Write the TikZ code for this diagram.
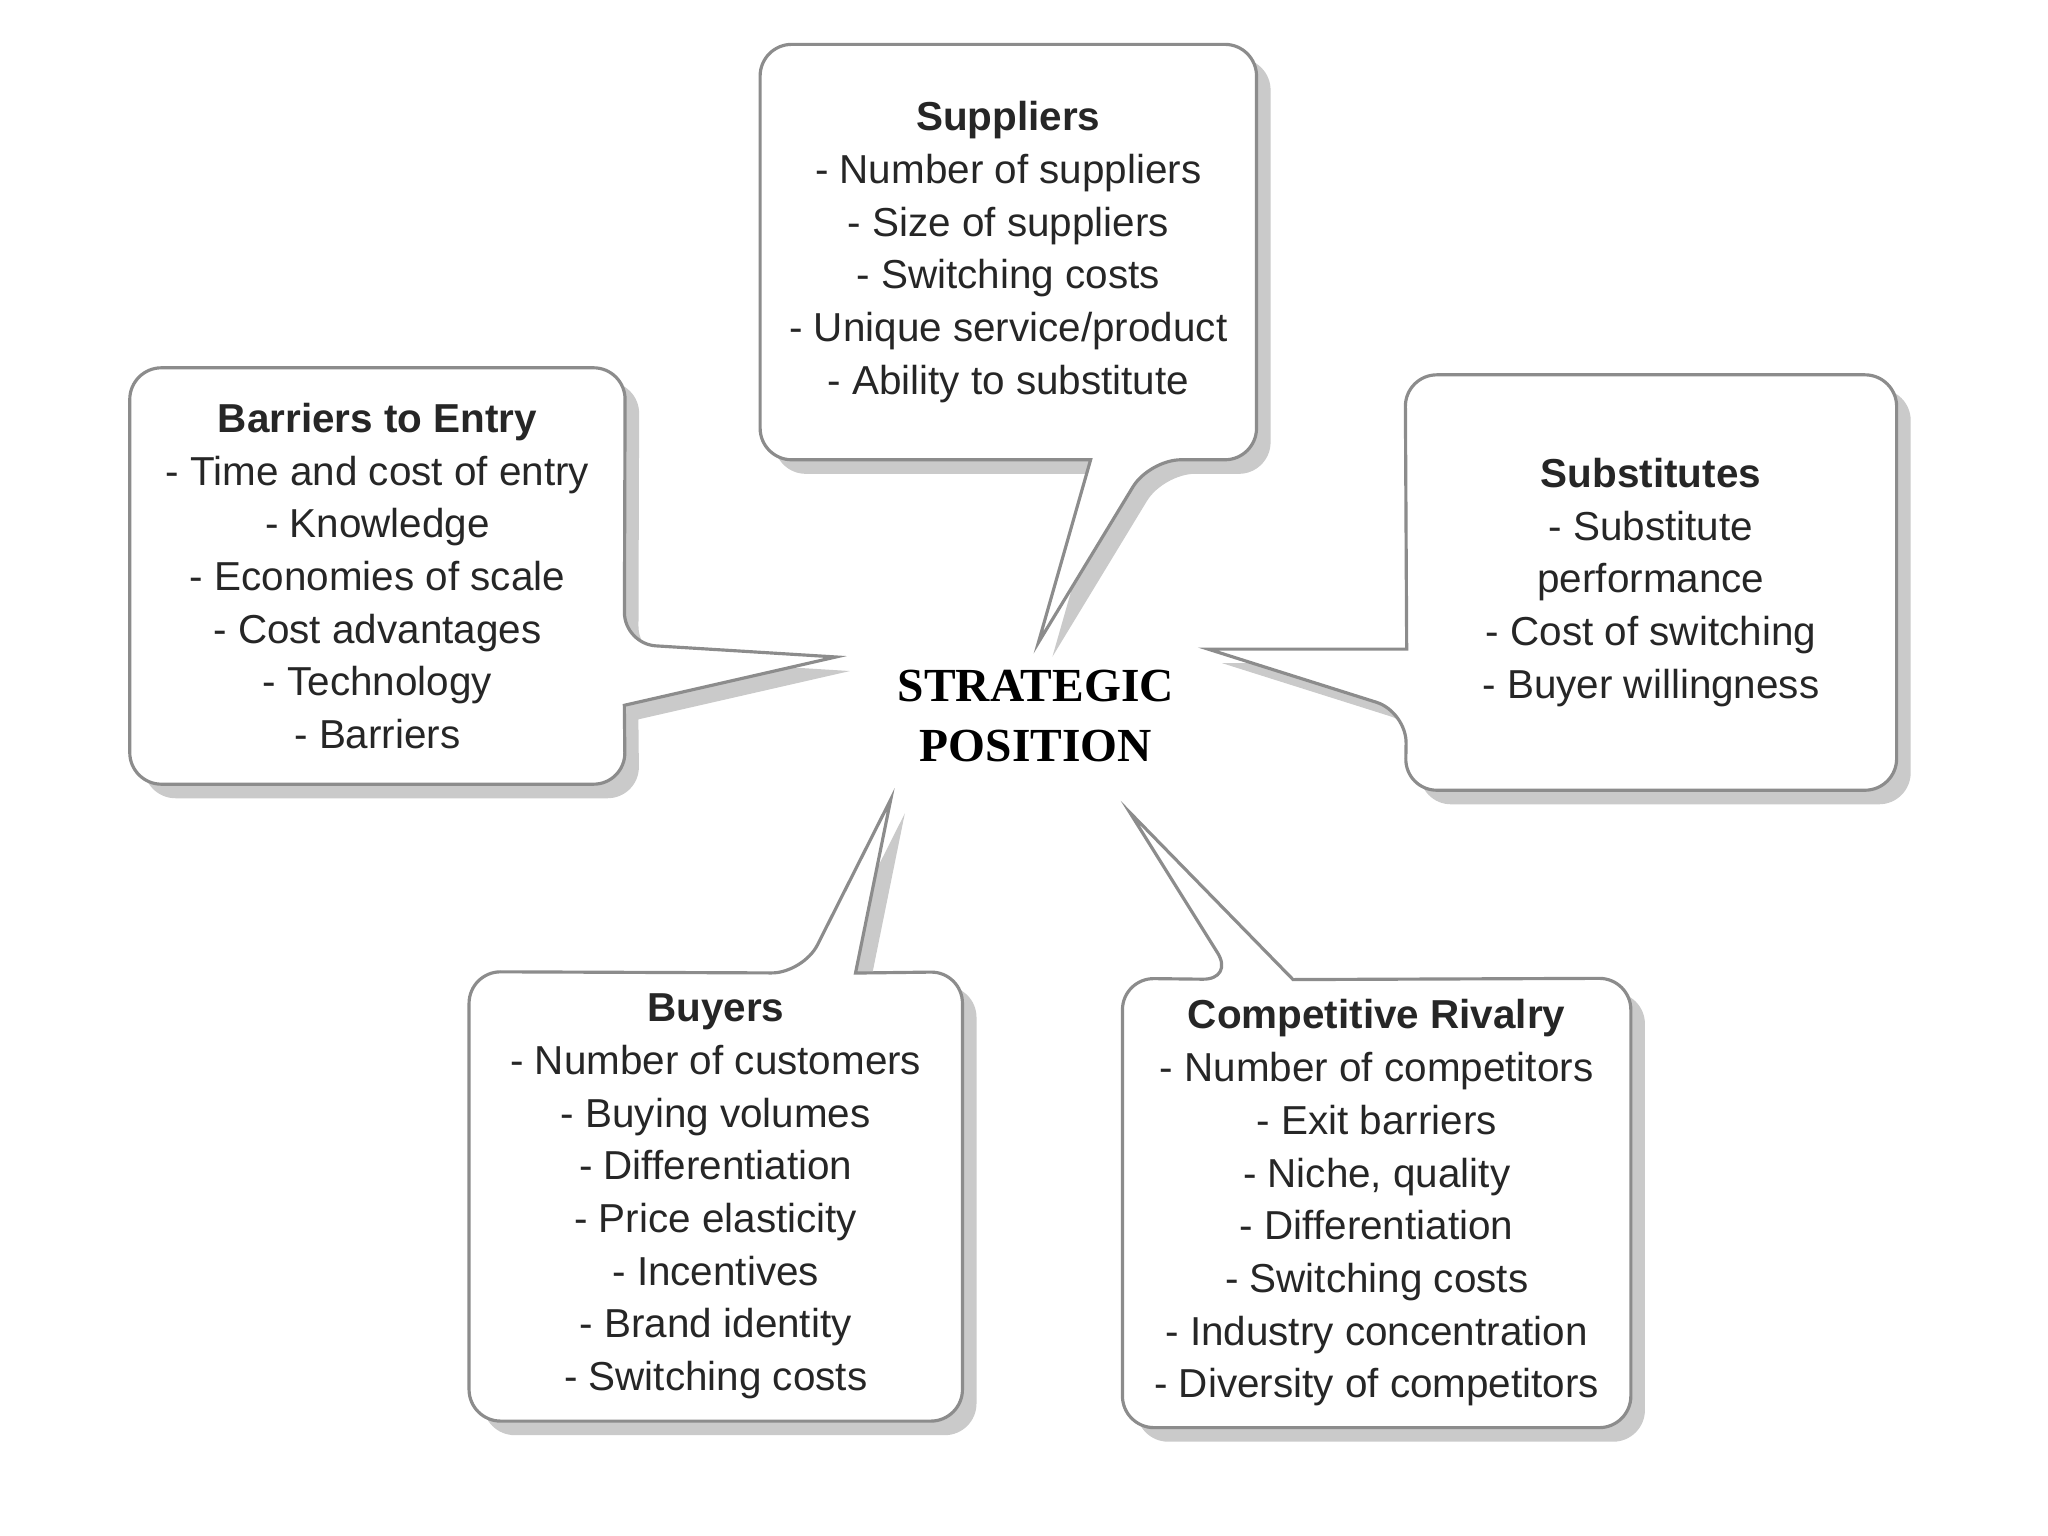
\documentclass[tikz,border=0pt]{standalone}
\usepackage{fontspec}
\setmainfont{Liberation Sans}
\newfontfamily\capfont{Liberation Serif}
\usetikzlibrary{positioning,shadows,backgrounds}

\tikzset{
  box/.style={align=center,text=black!85,font=\fontsize{11.5}{15}\selectfont,
    inner sep=0pt},
  bubble/.style={draw=black!45,line width=0.9pt,fill=white,rounded corners=9pt,
    drop shadow={shadow xshift=4pt,shadow yshift=-4pt,fill=black!35,opacity=.6}},
  centre/.style={align=center,font=\capfont\bfseries\fontsize{13.5}{17}\selectfont}
}

\begin{document}
\begin{tikzpicture}[x=0.01306cm,y=-0.01306cm]
  \useasboundingbox (0,0) rectangle (1568,1176);

  % the five forces
  \node[box,minimum width=4.95cm,minimum height=4.14cm] (sup) at (772,193)
    {\textbf{Suppliers}\\- Number of suppliers\\- Size of suppliers\\- Switching costs\\- Unique service/product\\- Ability to substitute};
  \node[box,minimum width=4.94cm,minimum height=4.15cm] (bar) at (289,441)
    {\textbf{Barriers to Entry}\\- Time and cost of entry\\- Knowledge\\- Economies of scale\\- Cost advantages\\- Technology\\- Barriers};
  \node[box,minimum width=4.90cm,minimum height=4.14cm] (sub) at (1264,446)
    {\textbf{Substitutes}\\- Substitute\\performance\\- Cost of switching\\- Buyer willingness};
  \node[box,minimum width=4.92cm,minimum height=4.48cm] (buy) at (548,916)
    {\textbf{Buyers}\\- Number of customers\\- Buying volumes\\- Differentiation\\- Price elasticity\\- Incentives\\- Brand identity\\- Switching costs};
  \node[box,minimum width=5.07cm,minimum height=4.48cm] (riv) at (1054,921)
    {\textbf{Competitive Rivalry}\\- Number of competitors\\- Exit barriers\\- Niche, quality\\- Differentiation\\- Switching costs\\- Industry concentration\\- Diversity of competitors};

  \node[centre] (pos) at (793,548) {STRATEGIC\\POSITION};

  % tails
  \coordinate (supA) at (835,352); \coordinate (supB) at (880,352); \coordinate (supT) at (795,492);
  \coordinate (barA) at (478,493); \coordinate (barB) at (478,540); \coordinate (barT) at (640,503);
  \coordinate (subA) at (1077,497); \coordinate (subB) at (1077,545); \coordinate (subT) at (925,497);
  \coordinate (buyA) at (615,745); \coordinate (buyB) at (655,745); \coordinate (buyT) at (682,612);
  \coordinate (rivA) at (945,750); \coordinate (rivB) at (990,750); \coordinate (rivT) at (865,622);

  \begin{pgfonlayer}{background}
    \path[bubble] (sup.north west) -- (sup.north east) -- (sup.south east) -- (supB)
      [sharp corners] -- (supT) -- (supA) [rounded corners=9pt] -- (sup.south west) -- cycle;
    \path[bubble] (bar.north west) -- (bar.north east) -- (barA)
      [sharp corners] -- (barT) -- (barB) [rounded corners=9pt] -- (bar.south east) -- (bar.south west) -- cycle;
    \path[bubble] (sub.north west) -- (sub.north east) -- (sub.south east) -- (sub.south west) -- (subB)
      [sharp corners] -- (subT) -- (subA) [rounded corners=9pt] -- cycle;
    \path[bubble] (buy.north west) -- (buyA) [sharp corners] -- (buyT) -- (buyB)
      [rounded corners=9pt] -- (buy.north east) -- (buy.south east) -- (buy.south west) -- cycle;
    \path[bubble] (riv.north west) -- (rivA) [sharp corners] -- (rivT) -- (rivB)
      [rounded corners=9pt] -- (riv.north east) -- (riv.south east) -- (riv.south west) -- cycle;
  \end{pgfonlayer}
\end{tikzpicture}
\end{document}
